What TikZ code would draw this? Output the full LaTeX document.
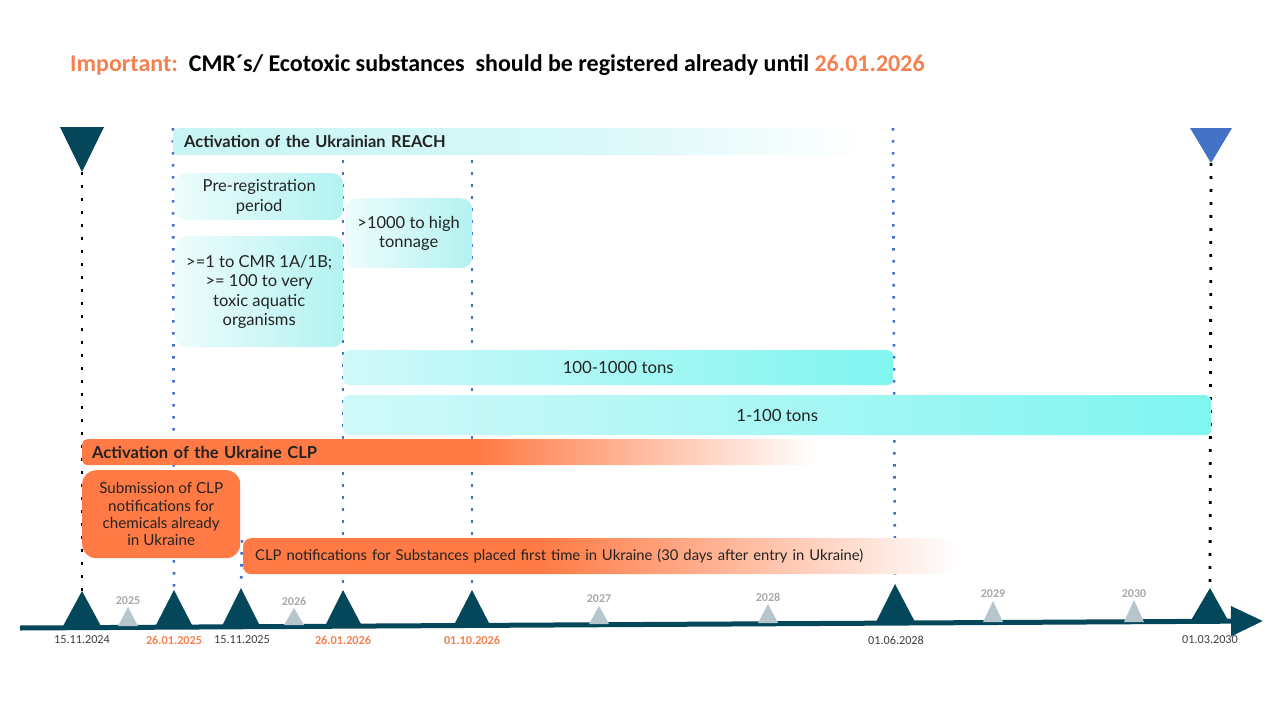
\documentclass[tikz,border=0pt]{standalone}
\usepackage{fontspec}
\setmainfont{Lato}
\newfontfamily\calfont{Carlito}
\usetikzlibrary{arrows.meta}
\definecolor{dk}{RGB}{4,70,90}
\definecolor{org}{RGB}{255,122,69}
\definecolor{torg}{RGB}{245,128,80}
\definecolor{cyl}{RGB}{200,245,245}
\definecolor{cyw}{RGB}{238,252,252}
\definecolor{cym}{RGB}{178,243,241}
\definecolor{cys}{RGB}{128,245,240}
\definecolor{cyp}{RGB}{208,249,249}
\definecolor{bl}{RGB}{68,114,196}
\definecolor{gt}{RGB}{183,198,204}
\definecolor{yr}{RGB}{165,168,172}
\definecolor{txt}{RGB}{35,35,35}
\definecolor{dtx}{RGB}{60,60,60}
\pgfdeclarehorizontalshading{clpfade}{100bp}{color(0bp)=(org); color(25bp)=(org); color(52bp)=(org); color(75bp)=(white); color(100bp)=(white)}
\pgfdeclarehorizontalshading{notefade}{100bp}{color(0bp)=(org); color(25bp)=(org); color(45bp)=(org); color(73bp)=(white); color(100bp)=(white)}
\pgfdeclarehorizontalshading{reachfade}{100bp}{color(0bp)=(cyl); color(25bp)=(cyl); color(55bp)=(cyl!70!white); color(75bp)=(white); color(100bp)=(white)}
\tikzset{
  bdot/.style={bl, line width=2.6pt, dash pattern=on 2.6pt off 9.4pt},
  kdot/.style={black, line width=2.8pt, dash pattern=on 2.8pt off 10.2pt},
  cbox/.style={rounded corners=11pt, left color=cyw, right color=cym, inner sep=0pt, anchor=north west, align=center, text=txt, font=\fontsize{16.5}{19.5}\selectfont},
  tbar/.style={rounded corners=6pt, left color=cyp, right color=cys, inner sep=0pt, anchor=north west, align=center, text=txt, font=\fontsize{16.8}{19}\selectfont},
  date/.style={font=\calfont\fontsize{12.2}{14}\selectfont, text=dtx},
  odate/.style={font=\calfont\bfseries\fontsize{12.2}{14}\selectfont, text=torg},
  year/.style={font=\calfont\bfseries\fontsize{12}{14}\selectfont, text=yr},
}
\begin{document}
\begin{tikzpicture}[x=1pt,y=-1pt]
\useasboundingbox (0,0) rectangle (1280,720);
% title
\node[anchor=west, inner sep=0pt, font=\calfont\bfseries\fontsize{24}{28}\selectfont] (title) at (70,65)
  {\textcolor{torg}{Important:}\ \ CMR´s/ Ecotoxic substances\ \ should be registered already until \textcolor{torg}{26.01.2026}};

% milestone apexes
\coordinate (m1) at (82,591);
\coordinate (m2) at (174,590);
\coordinate (m3) at (241,588);
\coordinate (m4) at (343,590);
\coordinate (m5) at (472,590);
\coordinate (m6) at (895,584);
\coordinate (m7) at (1210,588);
% top markers
\coordinate (t1) at (82,172);
\coordinate (t7) at (1211,163);
\coordinate (b2) at (173,128);
\coordinate (b3) at (242,540);
\coordinate (b4) at (343,160);
\coordinate (b5) at (472,160);
\coordinate (b6) at (893,128);

% dotted guide lines
\draw[kdot] (t1) -- (m1);
\draw[kdot] (t7) -- (m7);
\draw[bdot] (b2) -- (m2);
\draw[bdot] (b3) -- (m3);
\draw[bdot] (b4) -- (m4);
\draw[bdot] (b5) -- (m5);
\draw[bdot] (b6) -- (m6);

% top triangles
\fill[dk] (60,127) -- (104,127) -- (t1) -- cycle;
\fill[bl] (1190,128) -- (1232,128) -- (t7) -- cycle;

% REACH
\node[rounded corners=5pt, shading=reachfade, minimum width=692pt, minimum height=27pt, text width=670pt, inner xsep=11pt, inner ysep=0pt, anchor=north west, align=left, text=txt, font=\bfseries\fontsize{16.4}{18}\selectfont] (reach) at (173,128) {Activation of the Ukrainian REACH};
\node[cbox, minimum width=168pt, minimum height=47pt] (prereg) at (175,173) {Pre-registration\\period};
\node[cbox, minimum width=168pt, minimum height=111pt] (cmr) at (175,236) {>=1 to CMR 1A/1B;\\>= 100 to very\\toxic aquatic\\organisms};
\node[cbox, minimum width=127pt, minimum height=70pt] (high) at (345,198) {>1000 to high\\tonnage};
\node[tbar, minimum width=550pt, minimum height=35pt] (t100) at (343,350) {100-1000 tons};
\node[tbar, minimum width=868pt, minimum height=40pt] (t1to) at (343,395) {1-100 tons};

% CLP
\node[rounded corners=5pt, shading=clpfade, minimum width=733pt, minimum height=26pt, text width=713pt, inner xsep=10pt, inner ysep=0pt, anchor=north west, align=left, text=txt, font=\bfseries\fontsize{16.5}{18}\selectfont] (clp) at (82,439) {Activation of the Ukraine CLP};
\node[rounded corners=14pt, fill=org, minimum width=158pt, minimum height=88pt, inner sep=0pt, anchor=north west, align=center, text=txt, font=\fontsize{15.2}{17.4}\selectfont] (subm) at (82,470) {Submission of CLP\\notifications for\\chemicals already\\in Ukraine};
\node[rounded corners=8pt, shading=notefade, minimum width=732pt, minimum height=36pt, text width=720pt, inner xsep=12pt, inner ysep=0pt, anchor=north west, align=left, text=txt, font=\fontsize{14.8}{16}\selectfont] (notes) at (243,538) {CLP notifications for Substances placed first time in Ukraine (30 days after entry in Ukraine)};

% axis
\coordinate (axL) at (20,628);
\coordinate (axR) at (1263,621);
\draw[dk, line width=5pt, -{Triangle[length=32pt,width=29pt]}] (axL) -- (axR);

% small year triangles
\foreach \x/\ap/\bs/\yy/\lab in {128/607/626/601/2025, 294/608/625/601/2026, 599/606/624/599/2027, 768/604/623/597/2028, 993/601/622/594/2029, 1134/600/622/594/2030}{
  \fill[gt] (\x-10,\bs) -- (\x,\ap) -- (\x+10,\bs) -- cycle;
  \node[year] at (\x,\yy) {\lab};
}
% big milestone triangles
\fill[dk] (62,628) -- (m1) -- (102,628) -- cycle;
\fill[dk] (155,627) -- (m2) -- (193,627) -- cycle;
\fill[dk] (222,626) -- (m3) -- (260,626) -- cycle;
\fill[dk] (325,626) -- (m4) -- (362,626) -- cycle;
\fill[dk] (454,625) -- (m5) -- (490,625) -- cycle;
\fill[dk] (876,622) -- (m6) -- (915,622) -- cycle;
\fill[dk] (1190,622) -- (m7) -- (1229,622) -- cycle;

% dates
\node[date] (d1) at (82,640) {15.11.2024};
\node[odate] (d2) at (174,640) {26.01.2025};
\node[date] (d3) at (242,640) {15.11.2025};
\node[odate] (d4) at (343,640) {26.01.2026};
\node[odate] (d5) at (472,640) {01.10.2026};
\node[date] (d6) at (896,640) {01.06.2028};
\node[date] (d7) at (1210,640) {01.03.2030};
\end{tikzpicture}
\end{document}
